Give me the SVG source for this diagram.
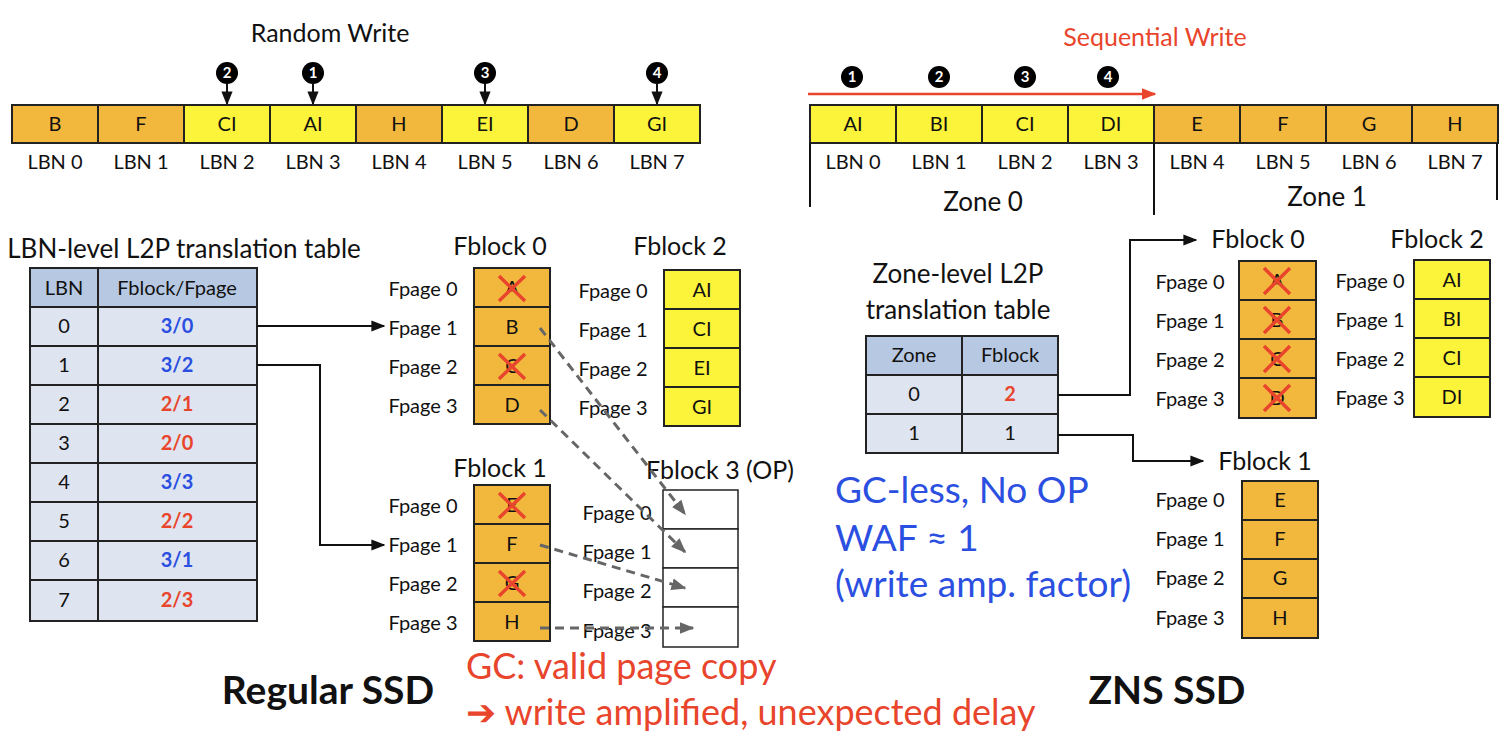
<svg xmlns="http://www.w3.org/2000/svg" width="1500" height="740" viewBox="0 0 1500 740">
<style>
text{font-family:"Lato","Open Sans","Liberation Sans",sans-serif;fill:#111}
.o{fill:#f2b83e;stroke:#222;stroke-width:2}
.y{fill:#fbf43a;stroke:#222;stroke-width:2}
.w{fill:#fff;stroke:#222;stroke-width:1.5}
.h{fill:#b7c8e2;stroke:#222;stroke-width:2}
.r{fill:#dfe5f0;stroke:#222;stroke-width:2}
.c{font-size:20px;text-anchor:middle}
.l{font-size:20px;text-anchor:middle}
.t{font-size:25px;text-anchor:middle}
.m{font-size:20px;text-anchor:middle;font-weight:bold}
.x{stroke:#e8452c;stroke-width:3.5}
.n circle{fill:#000}
.n text{fill:#fff;font-size:15px;text-anchor:middle;font-weight:bold}
.ln{stroke:#111;stroke-width:2;fill:none}
.d{stroke:#666;stroke-width:3;stroke-dasharray:9 6;fill:none}
</style>
<defs>
<marker id="a" viewBox="0 0 10 10" refX="9" refY="5" markerWidth="7" markerHeight="7" orient="auto"><path d="M0,1 L10,5 L0,9 z" fill="#111"/></marker>
<marker id="g" viewBox="0 0 10 10" refX="9" refY="5" markerWidth="5" markerHeight="5" orient="auto"><path d="M0,1 L10,5 L0,9 z" fill="#666"/></marker>
<marker id="rd" viewBox="0 0 10 10" refX="9" refY="5" markerWidth="6" markerHeight="6" orient="auto"><path d="M0,1 L10,5 L0,9 z" fill="#e8452c"/></marker>
</defs>

<g id="random-write">
<text x="330" y="42" font-size="25" text-anchor="middle">Random Write</text>
<rect class="o" x="12" y="105" width="86" height="38"/><text class="c" x="55" y="131">B</text>
<rect class="o" x="98" y="105" width="86" height="38"/><text class="c" x="141" y="131">F</text>
<rect class="y" x="184" y="105" width="86" height="38"/><text class="c" x="227" y="131">CI</text>
<rect class="y" x="270" y="105" width="86" height="38"/><text class="c" x="313" y="131">AI</text>
<rect class="o" x="356" y="105" width="86" height="38"/><text class="c" x="399" y="131">H</text>
<rect class="y" x="442" y="105" width="86" height="38"/><text class="c" x="485" y="131">EI</text>
<rect class="o" x="528" y="105" width="86" height="38"/><text class="c" x="571" y="131">D</text>
<rect class="y" x="614" y="105" width="86" height="38"/><text class="c" x="657" y="131">GI</text>
<text class="l" x="55" y="169">LBN 0</text><text class="l" x="141" y="169">LBN 1</text><text class="l" x="227" y="169">LBN 2</text><text class="l" x="313" y="169">LBN 3</text><text class="l" x="399" y="169">LBN 4</text><text class="l" x="485" y="169">LBN 5</text><text class="l" x="571" y="169">LBN 6</text><text class="l" x="657" y="169">LBN 7</text>
<g class="n"><circle cx="227" cy="73" r="11"/><text x="227" y="78">2</text><circle cx="313" cy="73" r="11"/><text x="313" y="78">1</text><circle cx="485" cy="73" r="11"/><text x="485" y="78">3</text><circle cx="657" cy="73" r="11"/><text x="657" y="78">4</text></g>
</g>

<g id="seq-write">
<text x="1155" y="46" font-size="25" text-anchor="middle" style="fill:#e8452c">Sequential Write</text>
<rect class="y" x="810" y="105" width="86" height="38"/><text class="c" x="853" y="131">AI</text>
<rect class="y" x="896" y="105" width="86" height="38"/><text class="c" x="939" y="131">BI</text>
<rect class="y" x="982" y="105" width="86" height="38"/><text class="c" x="1025" y="131">CI</text>
<rect class="y" x="1068" y="105" width="86" height="38"/><text class="c" x="1111" y="131">DI</text>
<rect class="o" x="1154" y="105" width="86" height="38"/><text class="c" x="1197" y="131">E</text>
<rect class="o" x="1240" y="105" width="86" height="38"/><text class="c" x="1283" y="131">F</text>
<rect class="o" x="1326" y="105" width="86" height="38"/><text class="c" x="1369" y="131">G</text>
<rect class="o" x="1412" y="105" width="86" height="38"/><text class="c" x="1455" y="131">H</text>
<text class="l" x="853" y="169">LBN 0</text><text class="l" x="939" y="169">LBN 1</text><text class="l" x="1025" y="169">LBN 2</text><text class="l" x="1111" y="169">LBN 3</text><text class="l" x="1197" y="169">LBN 4</text><text class="l" x="1283" y="169">LBN 5</text><text class="l" x="1369" y="169">LBN 6</text><text class="l" x="1455" y="169">LBN 7</text>
<g class="n"><circle cx="852" cy="77" r="11"/><text x="852" y="82">1</text><circle cx="939" cy="77" r="11"/><text x="939" y="82">2</text><circle cx="1025" cy="77" r="11"/><text x="1025" y="82">3</text><circle cx="1108" cy="77" r="11"/><text x="1108" y="82">4</text></g>
<path class="ln" d="M810,143V207M1154,143V215M1497,143V200"/>
<text x="983" y="211" font-size="26" text-anchor="middle">Zone 0</text>
<text x="1327" y="206" font-size="26" text-anchor="middle">Zone 1</text>
</g>

<g id="lbn-table">
<text x="184" y="258" font-size="26" text-anchor="middle">LBN-level L2P translation table</text>
<rect class="h" x="30" y="268" width="68" height="39"/><rect class="h" x="98" y="268" width="159" height="39"/>
<text class="c" x="64" y="295">LBN</text><text class="c" x="177" y="295">Fblock/Fpage</text>
<g>
<rect class="r" x="30" y="307" width="68" height="39"/><rect class="r" x="98" y="307" width="159" height="39"/>
<rect class="r" x="30" y="346" width="68" height="39"/><rect class="r" x="98" y="346" width="159" height="39"/>
<rect class="r" x="30" y="385" width="68" height="39"/><rect class="r" x="98" y="385" width="159" height="39"/>
<rect class="r" x="30" y="424" width="68" height="39"/><rect class="r" x="98" y="424" width="159" height="39"/>
<rect class="r" x="30" y="463" width="68" height="39"/><rect class="r" x="98" y="463" width="159" height="39"/>
<rect class="r" x="30" y="502" width="68" height="39"/><rect class="r" x="98" y="502" width="159" height="39"/>
<rect class="r" x="30" y="541" width="68" height="39"/><rect class="r" x="98" y="541" width="159" height="39"/>
<rect class="r" x="30" y="580" width="68" height="41"/><rect class="r" x="98" y="580" width="159" height="41"/>
</g>
<text class="c" x="64" y="333">0</text><text class="c" x="64" y="372">1</text><text class="c" x="64" y="411">2</text><text class="c" x="64" y="450">3</text><text class="c" x="64" y="489">4</text><text class="c" x="64" y="528">5</text><text class="c" x="64" y="567">6</text><text class="c" x="64" y="607">7</text>
<text class="m" x="177" y="333" style="fill:#2b4fe0">3/0</text>
<text class="m" x="177" y="372" style="fill:#2b4fe0">3/2</text>
<text class="m" x="177" y="411" style="fill:#e8452c">2/1</text>
<text class="m" x="177" y="450" style="fill:#e8452c">2/0</text>
<text class="m" x="177" y="489" style="fill:#2b4fe0">3/3</text>
<text class="m" x="177" y="528" style="fill:#e8452c">2/2</text>
<text class="m" x="177" y="567" style="fill:#2b4fe0">3/1</text>
<text class="m" x="177" y="607" style="fill:#e8452c">2/3</text>
</g>

<g id="fblock0-left">
<text class="t" x="500" y="255">Fblock 0</text>
<rect class="o" x="474" y="268" width="76" height="39"/><rect class="o" x="474" y="307" width="76" height="39"/><rect class="o" x="474" y="346" width="76" height="39"/><rect class="o" x="474" y="385" width="76" height="39"/>
<text class="c" x="512" y="295">A</text><text class="c" x="512" y="334">B</text><text class="c" x="512" y="373">C</text><text class="c" x="512" y="412">D</text>
<path class="x" d="M499,276L525,301M525,276L499,301M499,354L525,379M525,354L499,379"/>
<text class="c" x="423" y="296">Fpage 0</text><text class="c" x="423" y="335">Fpage 1</text><text class="c" x="423" y="374">Fpage 2</text><text class="c" x="423" y="413">Fpage 3</text>
</g>
<g id="fblock2-left">
<text class="t" x="680" y="255">Fblock 2</text>
<rect class="y" x="664" y="270" width="76" height="39"/><rect class="y" x="664" y="309" width="76" height="39"/><rect class="y" x="664" y="348" width="76" height="39"/><rect class="y" x="664" y="387" width="76" height="39"/>
<text class="c" x="702" y="297">AI</text><text class="c" x="702" y="336">CI</text><text class="c" x="702" y="375">EI</text><text class="c" x="702" y="414">GI</text>
<text class="c" x="613" y="298">Fpage 0</text><text class="c" x="613" y="337">Fpage 1</text><text class="c" x="613" y="376">Fpage 2</text><text class="c" x="613" y="415">Fpage 3</text>
</g>
<g id="fblock1-left">
<text class="t" x="500" y="477">Fblock 1</text>
<rect class="o" x="474" y="485" width="76" height="39"/><rect class="o" x="474" y="524" width="76" height="39"/><rect class="o" x="474" y="563" width="76" height="39"/><rect class="o" x="474" y="602" width="76" height="39"/>
<text class="c" x="512" y="512">E</text><text class="c" x="512" y="551">F</text><text class="c" x="512" y="590">G</text><text class="c" x="512" y="629">H</text>
<path class="x" d="M499,493L525,518M525,493L499,518M499,571L525,596M525,571L499,596"/>
<text class="c" x="423" y="513">Fpage 0</text><text class="c" x="423" y="552">Fpage 1</text><text class="c" x="423" y="591">Fpage 2</text><text class="c" x="423" y="630">Fpage 3</text>
</g>
<g id="fblock3-left">
<text class="t" x="720" y="479">Fblock 3 (OP)</text>
<text class="c" x="617" y="520">Fpage 0</text><text class="c" x="617" y="559">Fpage 1</text><text class="c" x="617" y="598">Fpage 2</text><text class="c" x="617" y="638">Fpage 3</text>
<rect class="w" x="663" y="490" width="75" height="39"/><rect class="w" x="663" y="529" width="75" height="39"/><rect class="w" x="663" y="568" width="75" height="39"/><rect class="w" x="663" y="607" width="75" height="40"/>
</g>

<g id="zone-table">
<text x="958" y="283" font-size="26" text-anchor="middle">Zone-level L2P</text>
<text x="958" y="319" font-size="26" text-anchor="middle">translation table</text>
<rect class="h" x="866" y="336" width="96" height="39"/><rect class="h" x="962" y="336" width="96" height="39"/>
<rect class="r" x="866" y="375" width="96" height="39"/><rect class="r" x="962" y="375" width="96" height="39"/>
<rect class="r" x="866" y="414" width="96" height="39"/><rect class="r" x="962" y="414" width="96" height="39"/>
<text class="c" x="914" y="362">Zone</text><text class="c" x="1010" y="362">Fblock</text>
<text class="c" x="914" y="401">0</text><text class="m" x="1010" y="401" style="fill:#e8452c">2</text>
<text class="c" x="914" y="440">1</text><text class="c" x="1010" y="440">1</text>
</g>

<g id="fblock0-right">
<text class="t" x="1258" y="248">Fblock 0</text>
<rect class="o" x="1239" y="261" width="77" height="39"/><rect class="o" x="1239" y="300" width="77" height="39"/><rect class="o" x="1239" y="339" width="77" height="39"/><rect class="o" x="1239" y="378" width="77" height="40"/>
<text class="c" x="1277" y="288">A</text><text class="c" x="1277" y="327">B</text><text class="c" x="1277" y="366">C</text><text class="c" x="1277" y="405">D</text>
<path class="x" d="M1264,268L1290,294M1290,268L1264,294M1264,307L1290,333M1290,307L1264,333M1264,346L1290,372M1290,346L1264,372M1264,385L1290,411M1290,385L1264,411"/>
<text class="c" x="1190" y="289">Fpage 0</text><text class="c" x="1190" y="328">Fpage 1</text><text class="c" x="1190" y="367">Fpage 2</text><text class="c" x="1190" y="406">Fpage 3</text>
</g>
<g id="fblock2-right">
<text class="t" x="1437" y="248">Fblock 2</text>
<rect class="y" x="1414" y="260" width="76" height="39"/><rect class="y" x="1414" y="299" width="76" height="39"/><rect class="y" x="1414" y="338" width="76" height="39"/><rect class="y" x="1414" y="377" width="76" height="40"/>
<text class="c" x="1452" y="287">AI</text><text class="c" x="1452" y="326">BI</text><text class="c" x="1452" y="365">CI</text><text class="c" x="1452" y="404">DI</text>
<text class="c" x="1370" y="288">Fpage 0</text><text class="c" x="1370" y="327">Fpage 1</text><text class="c" x="1370" y="366">Fpage 2</text><text class="c" x="1370" y="405">Fpage 3</text>
</g>
<g id="fblock1-right">
<text class="t" x="1265" y="470">Fblock 1</text>
<rect class="o" x="1242" y="481" width="76" height="39"/><rect class="o" x="1242" y="520" width="76" height="39"/><rect class="o" x="1242" y="559" width="76" height="39"/><rect class="o" x="1242" y="598" width="76" height="40"/>
<text class="c" x="1280" y="507">E</text><text class="c" x="1280" y="546">F</text><text class="c" x="1280" y="585">G</text><text class="c" x="1280" y="625">H</text>
<text class="c" x="1190" y="507">Fpage 0</text><text class="c" x="1190" y="546">Fpage 1</text><text class="c" x="1190" y="585">Fpage 2</text><text class="c" x="1190" y="625">Fpage 3</text>
</g>

<g id="connectors">
<path class="ln" marker-end="url(#a)" d="M227,84V104"/>
<path class="ln" marker-end="url(#a)" d="M313,84V104"/>
<path class="ln" marker-end="url(#a)" d="M485,84V104"/>
<path class="ln" marker-end="url(#a)" d="M657,84V104"/>
<path stroke="#e8452c" stroke-width="2.5" fill="none" marker-end="url(#rd)" d="M808,94H1155"/>
<path class="ln" marker-end="url(#a)" d="M257,326H384"/>
<path class="ln" marker-end="url(#a)" d="M257,365H320V545H384"/>
<path class="d" marker-end="url(#g)" d="M540,328L685,514"/>
<path class="d" marker-end="url(#g)" d="M540,410L685,552"/>
<path class="d" marker-end="url(#g)" d="M540,545L685,588"/>
<path class="d" marker-end="url(#g)" d="M540,628H693"/>
<path class="ln" marker-end="url(#a)" d="M1058,395H1130V240H1196"/>
<path class="ln" marker-end="url(#a)" d="M1058,435H1133V461H1203"/>
</g>

<g id="notes">
<text x="328" y="704" font-size="39" font-weight="bold" text-anchor="middle">Regular SSD</text>
<text x="466" y="679" font-size="36" style="fill:#e8452c">GC: valid page copy</text>
<text x="466" y="725" font-size="36" style="fill:#e8452c">➔ write amplified, unexpected delay</text>
<text x="835" y="503" font-size="37" style="fill:#2b4fe0">GC-less, No OP</text>
<text x="835" y="551" font-size="37" style="fill:#2b4fe0">WAF ≈ 1</text>
<text x="835" y="597" font-size="37" style="fill:#2b4fe0">(write amp. factor)</text>
<text x="1167" y="704" font-size="39" font-weight="bold" text-anchor="middle">ZNS SSD</text>
</g>
</svg>
